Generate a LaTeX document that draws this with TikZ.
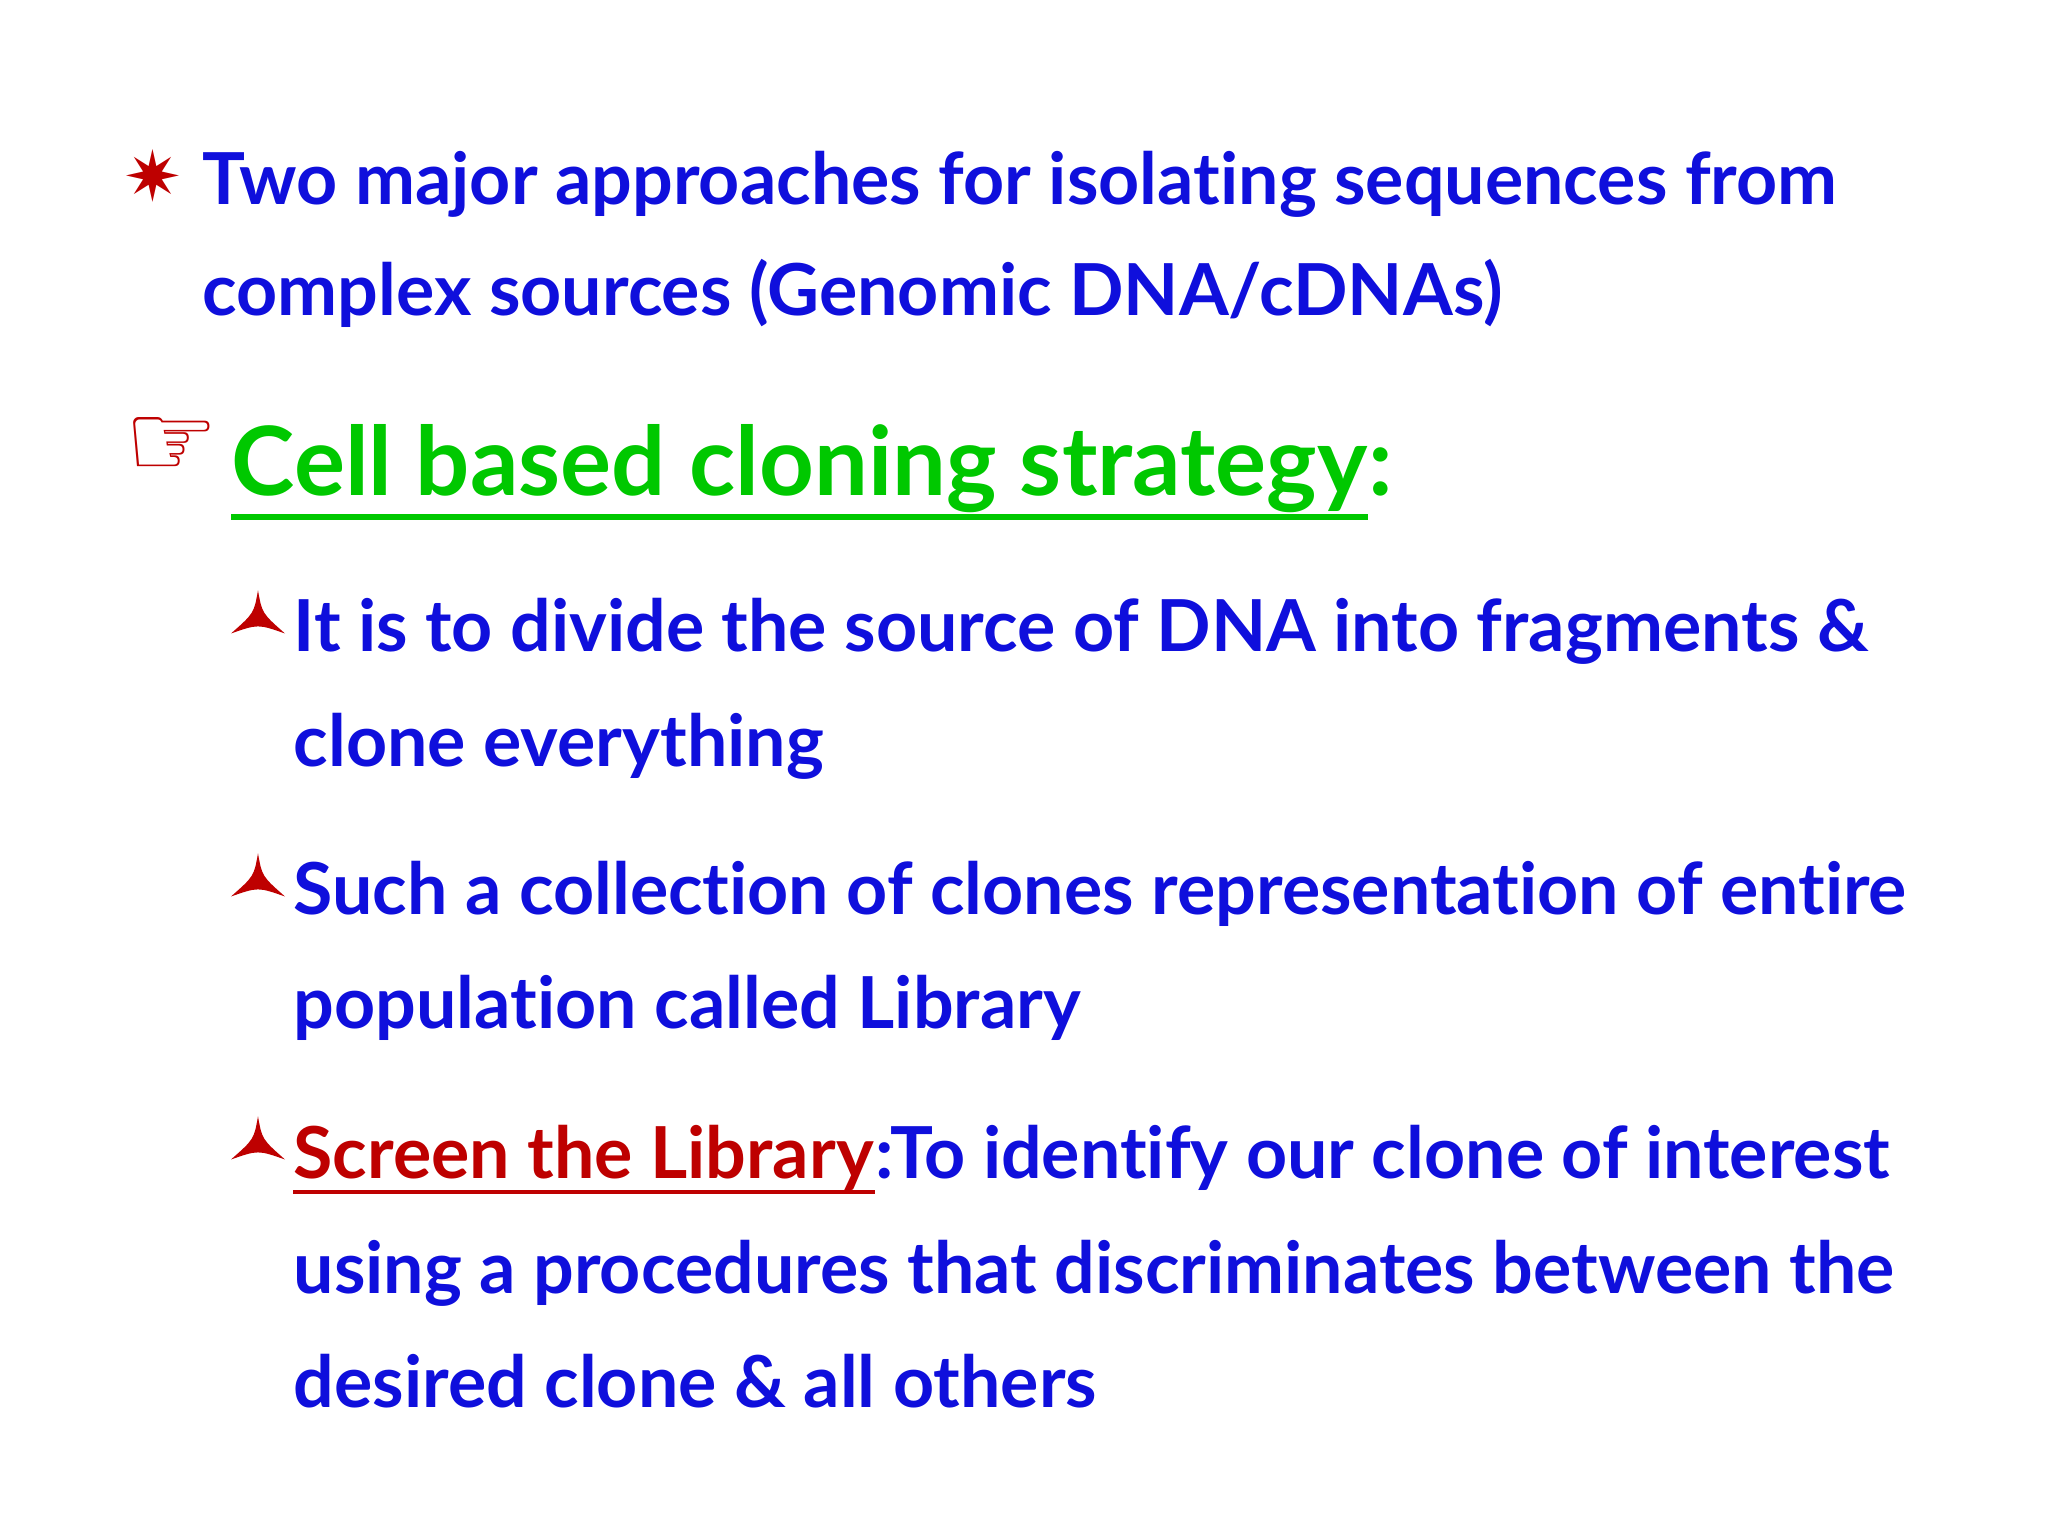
\documentclass[tikz,border=0pt]{standalone}
\usepackage{fontspec}
\setmainfont{Lato}[Ligatures=NoCommon]
\newfontfamily\symf{DejaVu Sans}
\definecolor{tblue}{RGB}{15,15,220}
\definecolor{tgreen}{RGB}{0,200,0}
\definecolor{tred}{RGB}{190,0,0}
\tikzset{
 tx/.style={anchor=base west,inner sep=0pt,font=\fontsize{20.4}{25}\selectfont\bfseries,text=tblue},
 big/.style={anchor=base west,inner sep=0pt,font=\fontsize{27.2}{32}\selectfont\bfseries,text=tgreen},
 tri/.pic={\fill[tred,scale=1.35] (0,0.22) .. controls (0.03,0.05) .. (0.2,-0.1) .. controls (0,-0.03) .. (-0.2,-0.1) .. controls (-0.03,0.05) .. (0,0.22) -- cycle;}
}
\begin{document}
\begin{tikzpicture}
\useasboundingbox (0,0) rectangle (20.48,-15.36);
\node[anchor=center,text=tred,font=\symf\fontsize{20}{24}\selectfont] (s1) at (1.53,-1.76) {✷};
\node[tx] (l1) at (2.02,-2.05) {Two major approaches for isolating sequences from};
\node[tx] (l2) at (2.02,-3.16) {complex sources (Genomic DNA/cDNAs)};
\node[anchor=center,text=tred,font=\symf\fontsize{30}{34}\selectfont] (hand) at (1.72,-4.48) {☞};
\node[big] (cell) at (2.31,-4.96) {Cell based cloning strategy};
\node[big] (col) at (cell.base east) {:};
\draw[tgreen,line width=1.6pt] ([yshift=-6pt]cell.base west) -- ([yshift=-6pt]cell.base east);
\pic at (2.58,-6.2) {tri};
\node[tx] (a1) at (2.93,-6.52) {It is to divide the source of DNA into fragments \&};
\node[tx] (a2) at (2.93,-7.67) {clone everything};
\pic at (2.58,-8.83) {tri};
\node[tx] (b1) at (2.93,-9.15) {Such a collection of clones representation of entire};
\node[tx] (b2) at (2.93,-10.29) {population called Library};
\pic at (2.58,-11.46) {tri};
\node[tx,text=tred] (c0) at (2.93,-11.78) {Screen the Library};
\draw[tred,line width=1.2pt] ([yshift=-4pt]c0.base west) -- ([yshift=-4pt]c0.base east);
\node[tx] (c1) at (c0.base east) {:To identify our clone of interest};
\node[tx] (c2) at (2.93,-12.93) {using a procedures that discriminates between the};
\node[tx] (c3) at (2.93,-14.07) {desired clone \& all others};
\end{tikzpicture}
\end{document}
